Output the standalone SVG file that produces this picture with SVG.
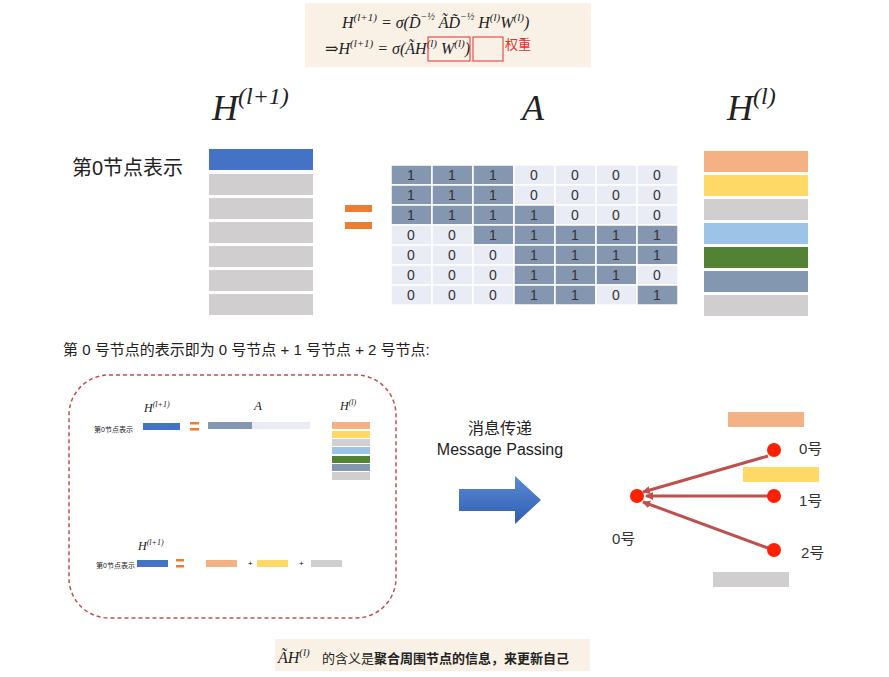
<svg xmlns="http://www.w3.org/2000/svg" width="889" height="677" viewBox="0 0 889 677">
<style>
.m{font-family:"Liberation Serif","DejaVu Serif",serif;font-style:italic}
.s{font-family:"Liberation Sans","Noto Sans CJK SC",sans-serif}
.d{fill:#8496b0}.l{fill:#e9ebf5}
.c{font-family:"Liberation Sans",sans-serif;font-size:14px;fill:#333;text-anchor:middle}
.eq{fill:#ed7d31}
</style>
<defs><marker id="ah" markerWidth="8" markerHeight="8" refX="7" refY="4" orient="auto" markerUnits="userSpaceOnUse"><path d="M0,0L8,4L0,8z" fill="#c0504d"/></marker></defs>
<rect width="889" height="677" fill="#fff"/>
<g id="formula">
<rect x="305" y="3" width="286" height="64" fill="#f9f1e6"/>
<text class="m" x="342" y="28" font-size="16" fill="#222">H<tspan font-size="11" dy="-7">(l+1)</tspan><tspan dy="7"> = σ(D̃</tspan><tspan font-size="10" dy="-8">−½</tspan><tspan dy="8"> ÃD̃</tspan><tspan font-size="10" dy="-8">−½</tspan><tspan dy="8"> H</tspan><tspan font-size="11" dy="-7">(l)</tspan><tspan dy="7">W</tspan><tspan font-size="11" dy="-7">(l)</tspan><tspan dy="7">)</tspan></text>
<text class="m" x="325" y="54" font-size="16" fill="#222">⇒H<tspan font-size="11" dy="-7">(l+1)</tspan><tspan dy="7"> = σ(ÃH</tspan><tspan font-size="11" dy="-7">(l)</tspan><tspan dy="7"> W</tspan><tspan font-size="11" dy="-7">(l)</tspan><tspan dy="7">)</tspan></text>
<rect x="428" y="37" width="42" height="24" fill="none" stroke="#e03030"/>
<rect x="473" y="37" width="30" height="24" fill="none" stroke="#e03030"/>
<text class="s" x="505" y="49" font-size="13" fill="#e03030">权重</text>
</g>
<g id="Hl1">
<text class="m" x="212" y="120" font-size="36" fill="#222">H<tspan font-size="24" dy="-16">(l+1)</tspan></text>
<text class="s" x="72" y="175" font-size="20" fill="#222">第0节点表示</text>
<rect x="209" y="149" width="104" height="21" fill="#4472c4"/>
<g fill="#d0cece"><rect x="209" y="174" width="104" height="21"/><rect x="209" y="198" width="104" height="21"/><rect x="209" y="222" width="104" height="21"/><rect x="209" y="246" width="104" height="21"/><rect x="209" y="270" width="104" height="21"/><rect x="209" y="294" width="104" height="21"/></g>
</g>
<g id="equals"><rect class="eq" x="345" y="205" width="27" height="7"/><rect class="eq" x="345" y="222" width="27" height="7"/></g>
<g id="A">
<text class="m" x="522" y="120" font-size="36" fill="#222">A</text>
<g stroke="#fff" stroke-width="1.5">
<rect class="d" x="391" y="165" width="41" height="20"/><rect class="d" x="432" y="165" width="41" height="20"/><rect class="d" x="473" y="165" width="41" height="20"/><rect class="l" x="514" y="165" width="41" height="20"/><rect class="l" x="555" y="165" width="41" height="20"/><rect class="l" x="596" y="165" width="41" height="20"/><rect class="l" x="637" y="165" width="41" height="20"/>
<rect class="d" x="391" y="185" width="41" height="20"/><rect class="d" x="432" y="185" width="41" height="20"/><rect class="d" x="473" y="185" width="41" height="20"/><rect class="l" x="514" y="185" width="41" height="20"/><rect class="l" x="555" y="185" width="41" height="20"/><rect class="l" x="596" y="185" width="41" height="20"/><rect class="l" x="637" y="185" width="41" height="20"/>
<rect class="d" x="391" y="205" width="41" height="20"/><rect class="d" x="432" y="205" width="41" height="20"/><rect class="d" x="473" y="205" width="41" height="20"/><rect class="d" x="514" y="205" width="41" height="20"/><rect class="l" x="555" y="205" width="41" height="20"/><rect class="l" x="596" y="205" width="41" height="20"/><rect class="l" x="637" y="205" width="41" height="20"/>
<rect class="l" x="391" y="225" width="41" height="20"/><rect class="l" x="432" y="225" width="41" height="20"/><rect class="d" x="473" y="225" width="41" height="20"/><rect class="d" x="514" y="225" width="41" height="20"/><rect class="d" x="555" y="225" width="41" height="20"/><rect class="d" x="596" y="225" width="41" height="20"/><rect class="d" x="637" y="225" width="41" height="20"/>
<rect class="l" x="391" y="245" width="41" height="20"/><rect class="l" x="432" y="245" width="41" height="20"/><rect class="l" x="473" y="245" width="41" height="20"/><rect class="d" x="514" y="245" width="41" height="20"/><rect class="d" x="555" y="245" width="41" height="20"/><rect class="d" x="596" y="245" width="41" height="20"/><rect class="d" x="637" y="245" width="41" height="20"/>
<rect class="l" x="391" y="265" width="41" height="20"/><rect class="l" x="432" y="265" width="41" height="20"/><rect class="l" x="473" y="265" width="41" height="20"/><rect class="d" x="514" y="265" width="41" height="20"/><rect class="d" x="555" y="265" width="41" height="20"/><rect class="d" x="596" y="265" width="41" height="20"/><rect class="l" x="637" y="265" width="41" height="20"/>
<rect class="l" x="391" y="285" width="41" height="20"/><rect class="l" x="432" y="285" width="41" height="20"/><rect class="l" x="473" y="285" width="41" height="20"/><rect class="d" x="514" y="285" width="41" height="20"/><rect class="d" x="555" y="285" width="41" height="20"/><rect class="l" x="596" y="285" width="41" height="20"/><rect class="d" x="637" y="285" width="41" height="20"/>
</g>
<text class="c" x="411" y="180">1</text><text class="c" x="452" y="180">1</text><text class="c" x="493" y="180">1</text><text class="c" x="534" y="180">0</text><text class="c" x="575" y="180">0</text><text class="c" x="616" y="180">0</text><text class="c" x="657" y="180">0</text>
<text class="c" x="411" y="200">1</text><text class="c" x="452" y="200">1</text><text class="c" x="493" y="200">1</text><text class="c" x="534" y="200">0</text><text class="c" x="575" y="200">0</text><text class="c" x="616" y="200">0</text><text class="c" x="657" y="200">0</text>
<text class="c" x="411" y="220">1</text><text class="c" x="452" y="220">1</text><text class="c" x="493" y="220">1</text><text class="c" x="534" y="220">1</text><text class="c" x="575" y="220">0</text><text class="c" x="616" y="220">0</text><text class="c" x="657" y="220">0</text>
<text class="c" x="411" y="240">0</text><text class="c" x="452" y="240">0</text><text class="c" x="493" y="240">1</text><text class="c" x="534" y="240">1</text><text class="c" x="575" y="240">1</text><text class="c" x="616" y="240">1</text><text class="c" x="657" y="240">1</text>
<text class="c" x="411" y="260">0</text><text class="c" x="452" y="260">0</text><text class="c" x="493" y="260">0</text><text class="c" x="534" y="260">1</text><text class="c" x="575" y="260">1</text><text class="c" x="616" y="260">1</text><text class="c" x="657" y="260">1</text>
<text class="c" x="411" y="280">0</text><text class="c" x="452" y="280">0</text><text class="c" x="493" y="280">0</text><text class="c" x="534" y="280">1</text><text class="c" x="575" y="280">1</text><text class="c" x="616" y="280">1</text><text class="c" x="657" y="280">0</text>
<text class="c" x="411" y="300">0</text><text class="c" x="452" y="300">0</text><text class="c" x="493" y="300">0</text><text class="c" x="534" y="300">1</text><text class="c" x="575" y="300">1</text><text class="c" x="616" y="300">0</text><text class="c" x="657" y="300">1</text>
</g>
<g id="Hl">
<text class="m" x="727" y="120" font-size="36" fill="#222">H<tspan font-size="24" dy="-16">(l)</tspan></text>
<rect x="704" y="151" width="104" height="21" fill="#f4b183"/><rect x="704" y="175" width="104" height="21" fill="#ffd966"/><rect x="704" y="199" width="104" height="21" fill="#d0cece"/><rect x="704" y="223" width="104" height="21" fill="#9dc3e6"/><rect x="704" y="247" width="104" height="21" fill="#548235"/><rect x="704" y="271" width="104" height="21" fill="#8497b0"/><rect x="704" y="295" width="104" height="21" fill="#d0cece"/>
</g>
<text class="s" x="63" y="355" font-size="15" fill="#222">第 0 号节点的表示即为 0 号节点 + 1 号节点 + 2 号节点:</text>
<g id="panel">
<rect x="69" y="375" width="327" height="243" rx="40" fill="none" stroke="#c0504d" stroke-width="1.5" stroke-dasharray="4,3"/>
<text class="m" x="144" y="412" font-size="12" fill="#222">H<tspan font-size="8" dy="-5">(l+1)</tspan></text>
<text class="m" x="254" y="410" font-size="13" fill="#222">A</text>
<text class="m" x="340" y="410" font-size="12" fill="#222">H<tspan font-size="8" dy="-5">(l)</tspan></text>
<text class="s" x="94" y="432" font-size="7" fill="#222">第0节点表示</text>
<rect x="143" y="423" width="37" height="7" fill="#4472c4"/>
<rect class="eq" x="190" y="422" width="9" height="2.5"/><rect class="eq" x="190" y="428" width="9" height="2.5"/>
<rect class="d" x="208" y="422" width="44" height="7"/><rect class="l" x="252" y="422" width="58" height="7"/>
<rect x="332" y="422" width="38" height="7" fill="#f4b183"/><rect x="332" y="431" width="38" height="7" fill="#ffd966"/><rect x="332" y="439" width="38" height="7" fill="#d0cece"/><rect x="332" y="447" width="38" height="7" fill="#9dc3e6"/><rect x="332" y="456" width="38" height="7" fill="#548235"/><rect x="332" y="464" width="38" height="7" fill="#8497b0"/><rect x="332" y="472" width="38" height="8" fill="#d0cece"/>
<text class="m" x="138" y="550" font-size="12" fill="#222">H<tspan font-size="8" dy="-5">(l+1)</tspan></text>
<text class="s" x="96" y="568" font-size="7" fill="#222">第0节点表示</text>
<rect x="137" y="560" width="31" height="7" fill="#4472c4"/>
<rect class="eq" x="176" y="559" width="8" height="2.5"/><rect class="eq" x="176" y="565" width="8" height="2.5"/>
<rect x="206" y="560" width="31" height="7" fill="#f4b183"/>
<text x="248" y="566" font-size="8" font-family="Liberation Sans,sans-serif">+</text>
<rect x="257" y="560" width="31" height="7" fill="#ffd966"/>
<text x="299" y="566" font-size="8" font-family="Liberation Sans,sans-serif">+</text>
<rect x="311" y="560" width="31" height="7" fill="#d0cece"/>
</g>
<g id="mp">
<text class="s" x="500" y="434" font-size="16" fill="#222" text-anchor="middle">消息传递</text>
<text class="s" x="500" y="455" font-size="16" fill="#222" text-anchor="middle">Message Passing</text>
<defs><linearGradient id="bg" x1="0" y1="0" x2="0" y2="1"><stop offset="0" stop-color="#5b8ad6"/><stop offset="1" stop-color="#2f5db0"/></linearGradient></defs>
<path d="M459,489H515V476L541,500L515,524V511H459Z" fill="url(#bg)"/>
</g>
<g id="graph">
<rect x="728" y="412" width="76" height="15" fill="#f4b183"/>
<rect x="743" y="467" width="76" height="15" fill="#ffd966"/>
<rect x="713" y="572" width="76" height="15" fill="#d0cece"/>
<g id="connectors" stroke="#c0504d" stroke-width="3" marker-end="url(#ah)">
<line x1="768" y1="456" x2="643" y2="492"/>
<line x1="768" y1="496" x2="646" y2="496"/>
<line x1="768" y1="548" x2="643" y2="502"/>
</g>
<circle cx="774" cy="450" r="7" fill="#ff2000"/><circle cx="774" cy="496" r="7" fill="#ff2000"/><circle cx="774" cy="550" r="7" fill="#ff2000"/><circle cx="637" cy="496" r="7" fill="#ff2000"/>
<text class="s" x="799" y="454" font-size="15" fill="#333">0号</text>
<text class="s" x="799" y="506" font-size="15" fill="#333">1号</text>
<text class="s" x="801" y="558" font-size="15" fill="#333">2号</text>
<text class="s" x="612" y="544" font-size="15" fill="#333">0号</text>
</g>
<g id="caption">
<rect x="275" y="639" width="315" height="32" fill="#f9f1e6"/>
<text class="m" x="278" y="663" font-size="16" fill="#222">ÃH<tspan font-size="11" dy="-7">(l)</tspan></text>
<text class="s" x="322" y="663" font-size="13" fill="#222">的含义是<tspan font-weight="bold">聚合周围节点的信息，来更新自己</tspan></text>
</g>
</svg>
